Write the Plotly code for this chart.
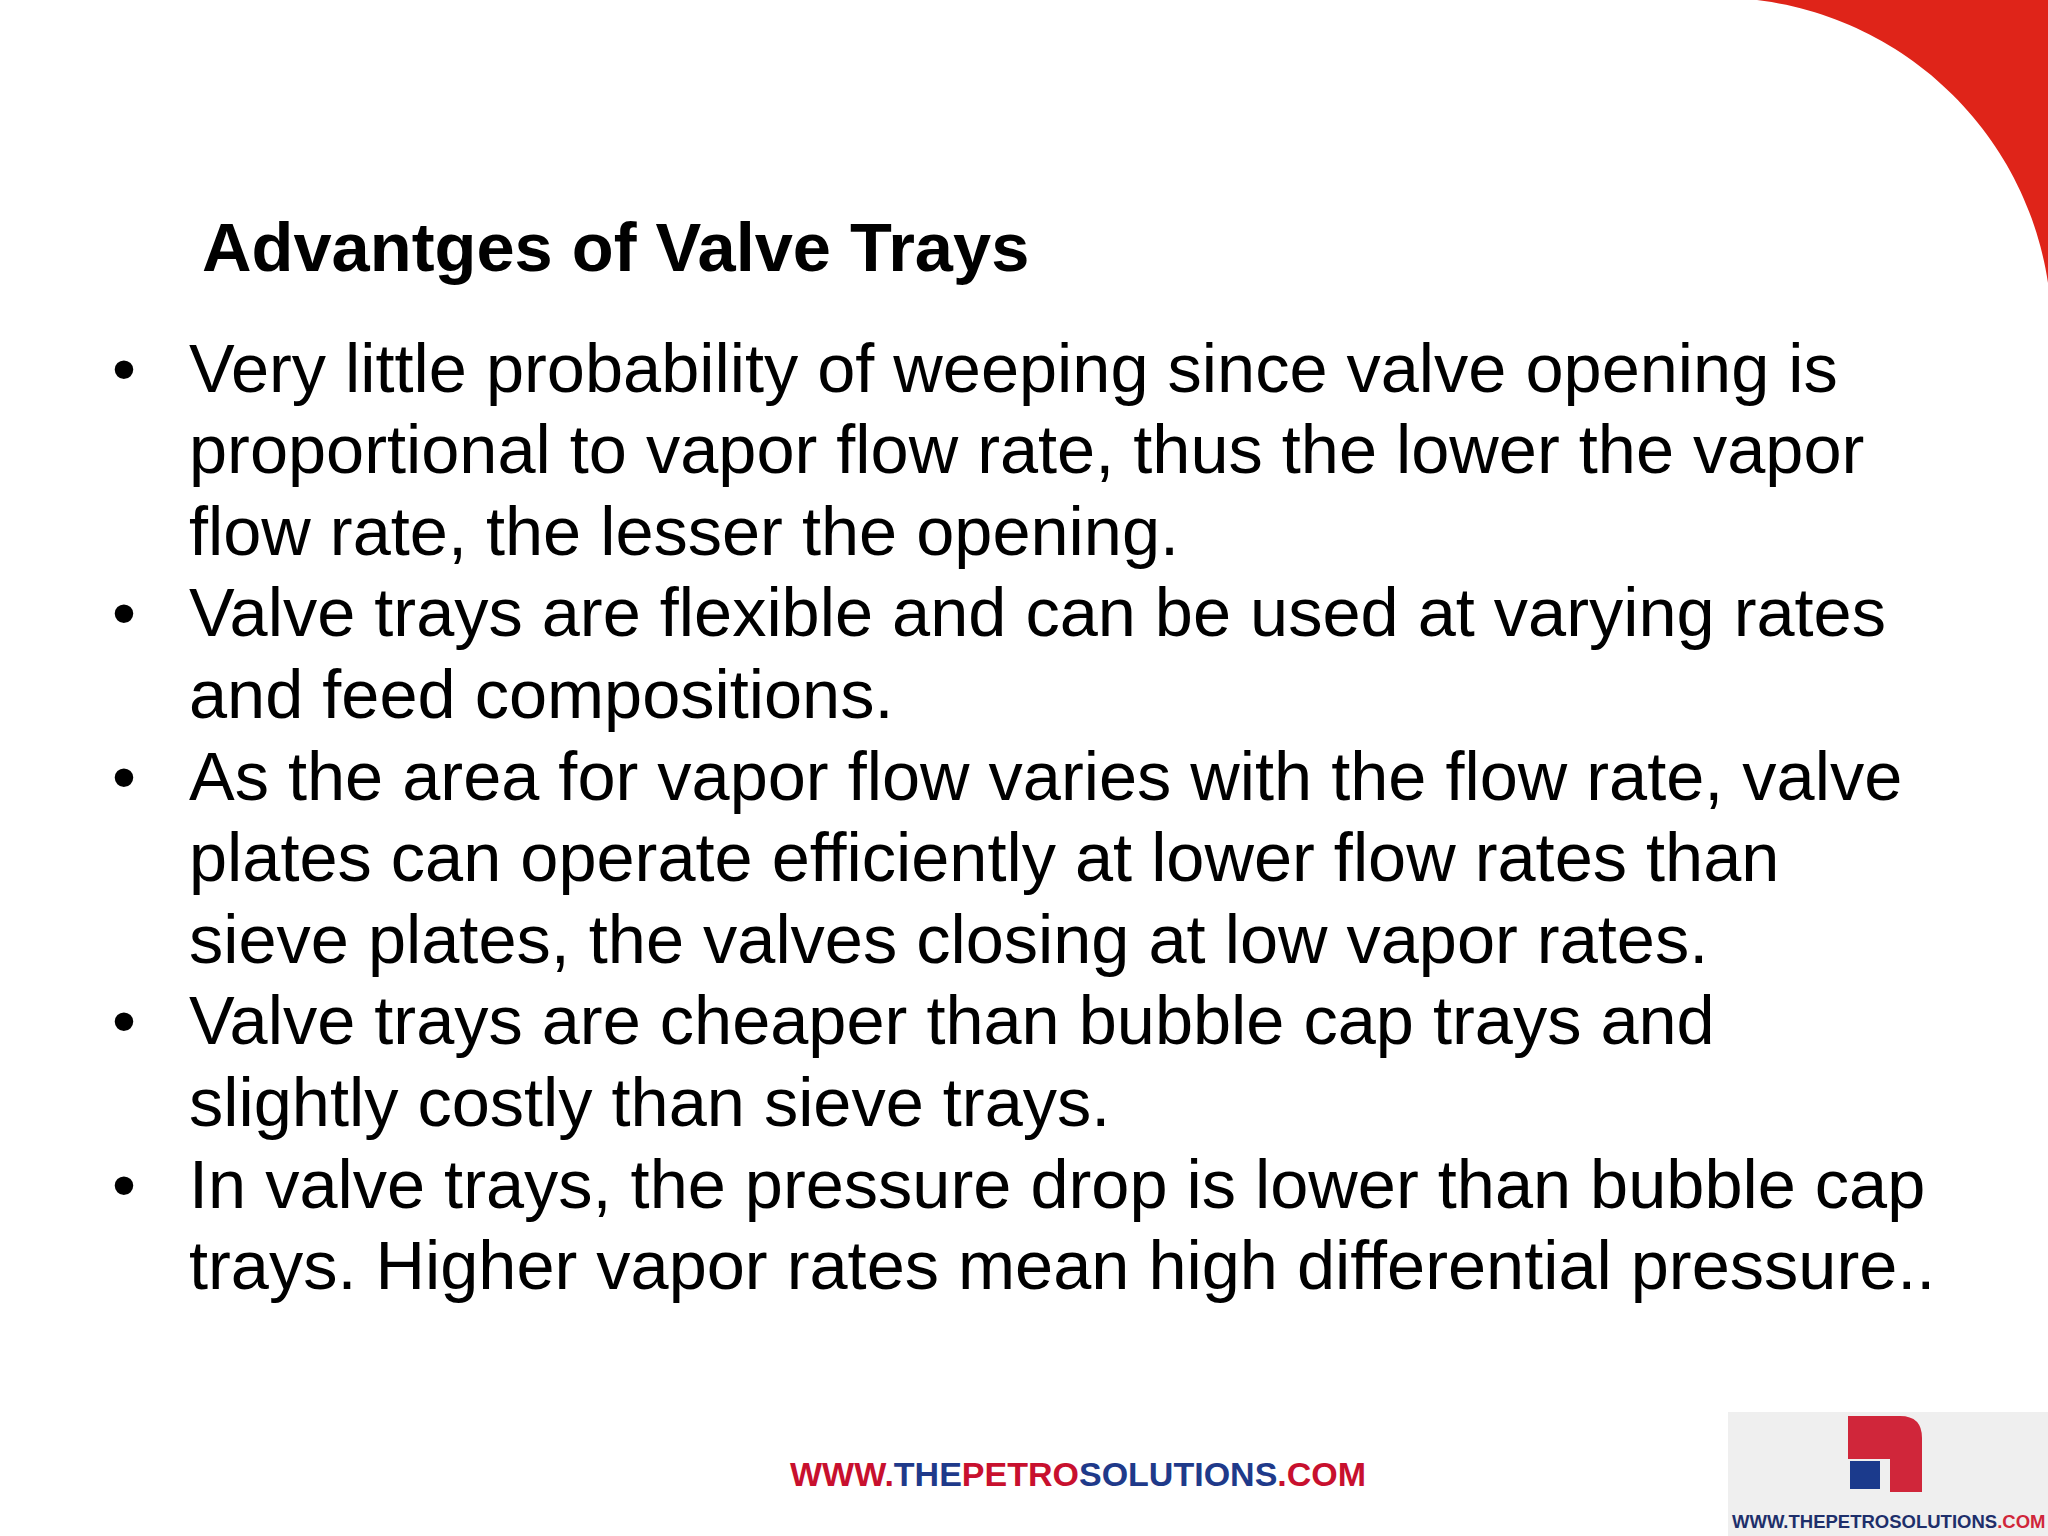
import numpy as np
import plotly.graph_objects as go

W, H = 2048, 1536

title = "Advantges of Valve Trays"
bullets = [
    ["Very little probability of weeping since valve opening is",
     "proportional to vapor flow rate, thus the lower the vapor",
     "flow rate, the lesser the opening."],
    ["Valve trays are flexible and can be used at varying rates",
     "and feed compositions."],
    ["As the area for vapor flow varies with the flow rate, valve",
     "plates can operate efficiently at lower flow rates than",
     "sieve plates, the valves closing at low vapor rates."],
    ["Valve trays are cheaper than bubble cap trays and",
     "slightly costly than sieve trays."],
    ["In valve trays, the pressure drop is lower than bubble cap",
     "trays. Higher vapor rates mean high differential pressure.."],
]
footer_parts = ["WWW.", "THE", "PETRO", "SOLUTIONS", ".COM"]
footer_colors = ["#C8102E", "#1F3A8A", "#C8102E", "#1F3A8A", "#C8102E"]
logo_parts = ["WWW.THEPETROSOLUTIONS", ".COM"]
logo_colors = ["#1E2F6B", "#D0263A"]

FONT = "Liberation Sans, Arial, sans-serif"

fs = 68.5
line_h = 81.6
first_base = 392
asc_off = 0.35 * fs   # baseline -> bbox centre

fig = go.Figure()
fig.update_layout(
    width=W, height=H, margin=dict(l=0, r=0, t=0, b=0),
    paper_bgcolor="white", plot_bgcolor="white", showlegend=False,
    xaxis=dict(range=[0, W], visible=False, fixedrange=True),
    yaxis=dict(range=[H, 0], visible=False, fixedrange=True),
)

# invisible anchor trace so axes exist
fig.add_trace(go.Scatter(x=[0, W], y=[0, H], mode="markers",
                         marker=dict(opacity=0), hoverinfo="skip"))

shapes = []
# red arc corner, top right
cx, cy, r = 1716.4, 332.8, 335.3
a0 = np.arctan2(0 - cy, 1757 - cx)
a1 = np.arctan2(283 - cy, W - cx)
ang = np.linspace(a0, a1, 60)
pts = [(cx + r * np.cos(a), cy + r * np.sin(a)) for a in ang]
path = "M %.1f,%.1f " % pts[0] + " ".join("L %.1f,%.1f" % p for p in pts[1:])
path += " L %d,%d L %d,%d Z" % (W, 283, W, 0)
shapes.append(dict(type="path", path=path, xref="x", yref="y",
                   fillcolor="#DF2419", line=dict(width=0), layer="below"))

# logo block
shapes.append(dict(type="rect", x0=1728, x1=W, y0=1412, y1=H, xref="x", yref="y",
                   fillcolor="#EFEFEF", line=dict(width=0), layer="below"))
rr = 22
logo_path = ("M 1848,1416 L %d,1416 Q 1922,1416 1922,%d L 1922,1492 L 1890,1492 "
             "L 1890,1459 L 1848,1459 Z") % (1922 - rr, 1416 + rr)
shapes.append(dict(type="path", path=logo_path, xref="x", yref="y",
                   fillcolor="#D0263A", line=dict(width=0), layer="below"))
shapes.append(dict(type="rect", x0=1850, x1=1880, y0=1461, y1=1489, xref="x", yref="y",
                   fillcolor="#1B3A8C", line=dict(width=0), layer="below"))
fig.update_layout(shapes=shapes)

ann = []
ann.append(dict(x=200, y=272 - 0.35 * 68.6, text="<b>%s</b>" % title, showarrow=False,
                xanchor="left", yanchor="middle", xref="x", yref="y",
                font=dict(family=FONT, size=68.6, color="black")))

k = 0
for para in bullets:
    for j, line in enumerate(para):
        base = first_base + k * line_h
        if j == 0:
            ann.append(dict(x=124, y=base - asc_off, text="•", showarrow=False,
                            xanchor="center", yanchor="middle", xref="x", yref="y",
                            font=dict(family=FONT, size=fs, color="black")))
        ann.append(dict(x=187, y=base - asc_off, text=line, showarrow=False,
                        xanchor="left", yanchor="middle", xref="x", yref="y",
                        font=dict(family=FONT, size=fs, color="black")))
        k += 1

footer = "".join('<span style="color:%s">%s</span>' % (c, t)
                 for t, c in zip(footer_parts, footer_colors))
ann.append(dict(x=1078, y=1474, text="<b>%s</b>" % footer, showarrow=False,
                xanchor="center", yanchor="middle", xref="x", yref="y",
                font=dict(family=FONT, size=34)))

logo_txt = "".join('<span style="color:%s">%s</span>' % (c, t)
                   for t, c in zip(logo_parts, logo_colors))
ann.append(dict(x=1888, y=1521, text="<b>%s</b>" % logo_txt, showarrow=False,
                xanchor="center", yanchor="middle", xref="x", yref="y",
                font=dict(family=FONT, size=18.5)))

fig.update_layout(annotations=ann)
fig.write_html("out.html", config={"displayModeBar": False},
               post_script="document.body.style.margin='0';document.body.style.overflow='hidden';")
